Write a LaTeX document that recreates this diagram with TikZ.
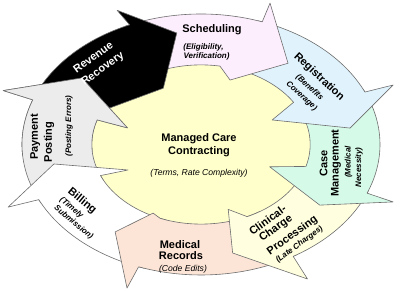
\documentclass[tikz,border=0pt]{standalone}
\usepackage{fontspec}
\setmainfont{Liberation Sans}
\definecolor{linegray}{RGB}{110,110,110}
\definecolor{centerY}{RGB}{255,255,204}
\definecolor{schedC}{RGB}{253,238,253}
\definecolor{regC}{RGB}{224,243,253}
\definecolor{caseC}{RGB}{214,250,232}
\definecolor{clinC}{RGB}{255,255,224}
\definecolor{medC}{RGB}{252,228,214}
\definecolor{billC}{RGB}{255,255,255}
\definecolor{payC}{RGB}{236,236,236}
\definecolor{revC}{RGB}{0,0,0}
\newcommand\arwfill{white}
\newcommand\ringarrow[9]{\filldraw[arw, fill=\arwfill] (#1:1) arc[start angle=#1, end angle=#2, radius=1] -- (#3:#4) -- (#5:#6) -- (#7:#8) -- (#9:0.61) arc[start angle=#9, end angle=#1, radius=0.61] -- ({#1-5}:0.8) -- cycle;}
\tikzset{
  arw/.style={draw=linegray, line width=0.6pt, line join=round},
  lbl/.style={font=\fontsize{11}{13}\selectfont\bfseries, inner sep=0pt},
  sub/.style={font=\fontsize{8}{9.5}\selectfont\bfseries\itshape, inner sep=0pt},
  subr/.style={font=\fontsize{8.6}{10}\selectfont\itshape, inner sep=0pt}
}
\begin{document}
\begin{tikzpicture}[x=1pt,y=1pt]
\useasboundingbox (0,0) rectangle (400,291);
\fill[white] (0,0) rectangle (400,291);
\begin{scope}[shift={(201,146.5)}, xscale=179, yscale=130.5]
  \fill[centerY] (0,0) circle[radius=0.64];
  % Payment Posting
  \renewcommand\arwfill{payC}
  \ringarrow{-153.5}{-200}{-200.5}{1.18}{-217.5}{0.838}{-197.2}{0.43}{-198}
  % Billing
  \renewcommand\arwfill{billC}
  \ringarrow{-108.5}{-155}{-156}{1.18}{-169.7}{0.835}{-154.4}{0.452}{-157}
  % Medical Records
  \renewcommand\arwfill{medC}
  \ringarrow{-57.5}{-110.4}{-110.6}{1.175}{-125.6}{0.824}{-117}{0.59}{-112}
  % Clinical
  \renewcommand\arwfill{clinC}
  \ringarrow{-20.5}{-59}{-60}{1.19}{-78}{0.85}{-73}{0.52}{-65}
  % Case Management
  \renewcommand\arwfill{caseC}
  \ringarrow{25}{-21.9}{-22.3}{1.16}{-35}{0.81}{-24}{0.42}{-16}
  % Registration
  \renewcommand\arwfill{regC}
  \ringarrow{71.5}{23.7}{23}{1.166}{8.6}{0.842}{25.3}{0.44}{32}
  % Scheduling
  \renewcommand\arwfill{schedC}
  \ringarrow{115}{70}{70.4}{1.15}{52}{0.79}{71.8}{0.52}{80}
  % Revenue Recovery
  \renewcommand\arwfill{revC}
  \ringarrow{161.5}{113.5}{114.5}{1.13}{99}{0.865}{116}{0.48}{155}
  % Payment Posting head again, over the tail of Revenue Recovery
  \begin{scope}
    \clip (0,0) -- (100:2) -- (140:2) -- (185:2) -- cycle;
    \renewcommand\arwfill{payC}
    \ringarrow{-153.5}{-200}{-200.5}{1.18}{-217.5}{0.838}{-197.2}{0.43}{-198}
  \end{scope}
\end{scope}
% centre
\node[lbl] (mc1) at (199,152) {Managed Care};
\node[lbl] (mc2) at (199,139) {Contracting};
\node[subr] (mc3) at (199,118) {(Terms, Rate Complexity)};
% revenue recovery
\node[lbl, white, rotate=36] (rr1) at (93,234) {Revenue};
\node[lbl, white, rotate=36] (rr2) at (103,222) {Recovery};
% scheduling
\node[lbl] (s1) at (212,261) {Scheduling};
\node[sub] (s2) at (203.5,244) {(Eligibility,};
\node[sub] (s3) at (206.5,235) {Verification)};
% registration
\node[lbl, rotate=-43] (g1) at (319,214) {Registration};
\node[sub, rotate=-43] (g2) at (309.5,203.5) {(Benefits};
\node[sub, rotate=-43] (g3) at (301.5,195) {Coverage)};
% case management
\node[lbl, rotate=90] (c1) at (323.5,127.5) {Case};
\node[lbl, rotate=90] (c2) at (336,128) {Management};
\node[sub, rotate=90] (c3) at (348.5,129) {(Medical};
\node[sub, rotate=90] (c4) at (359,123.5) {Necessity)};
% clinical
\node[lbl, rotate=36] (k1) at (267.5,71) {Clinical-};
\node[lbl, rotate=36] (k2) at (276,62.5) {Charge};
\node[lbl, rotate=36] (k3) at (292.5,55.5) {Processing};
\node[sub, rotate=36] (k4) at (299.5,46.5) {(Late Charges)};
% medical records
\node[lbl] (m1) at (180,46) {Medical};
\node[lbl] (m2) at (181,35) {Records};
\node[subr] (m3) at (183,21.5) {(Code Edits)};
% billing
\node[lbl, rotate=-40] (b1) at (82,90) {Billing};
\node[sub, rotate=-40] (b2) at (71.5,83) {(Timely};
\node[sub, rotate=-40] (b3) at (73.5,68.5) {Submission)};
% payment posting
\node[lbl, rotate=90] (p1) at (35.3,154) {Payment};
\node[lbl, rotate=90] (p2) at (49,149) {Posting};
\node[sub, rotate=90] (p3) at (69,165) {(Posting Errors)};
\end{tikzpicture}
\end{document}
